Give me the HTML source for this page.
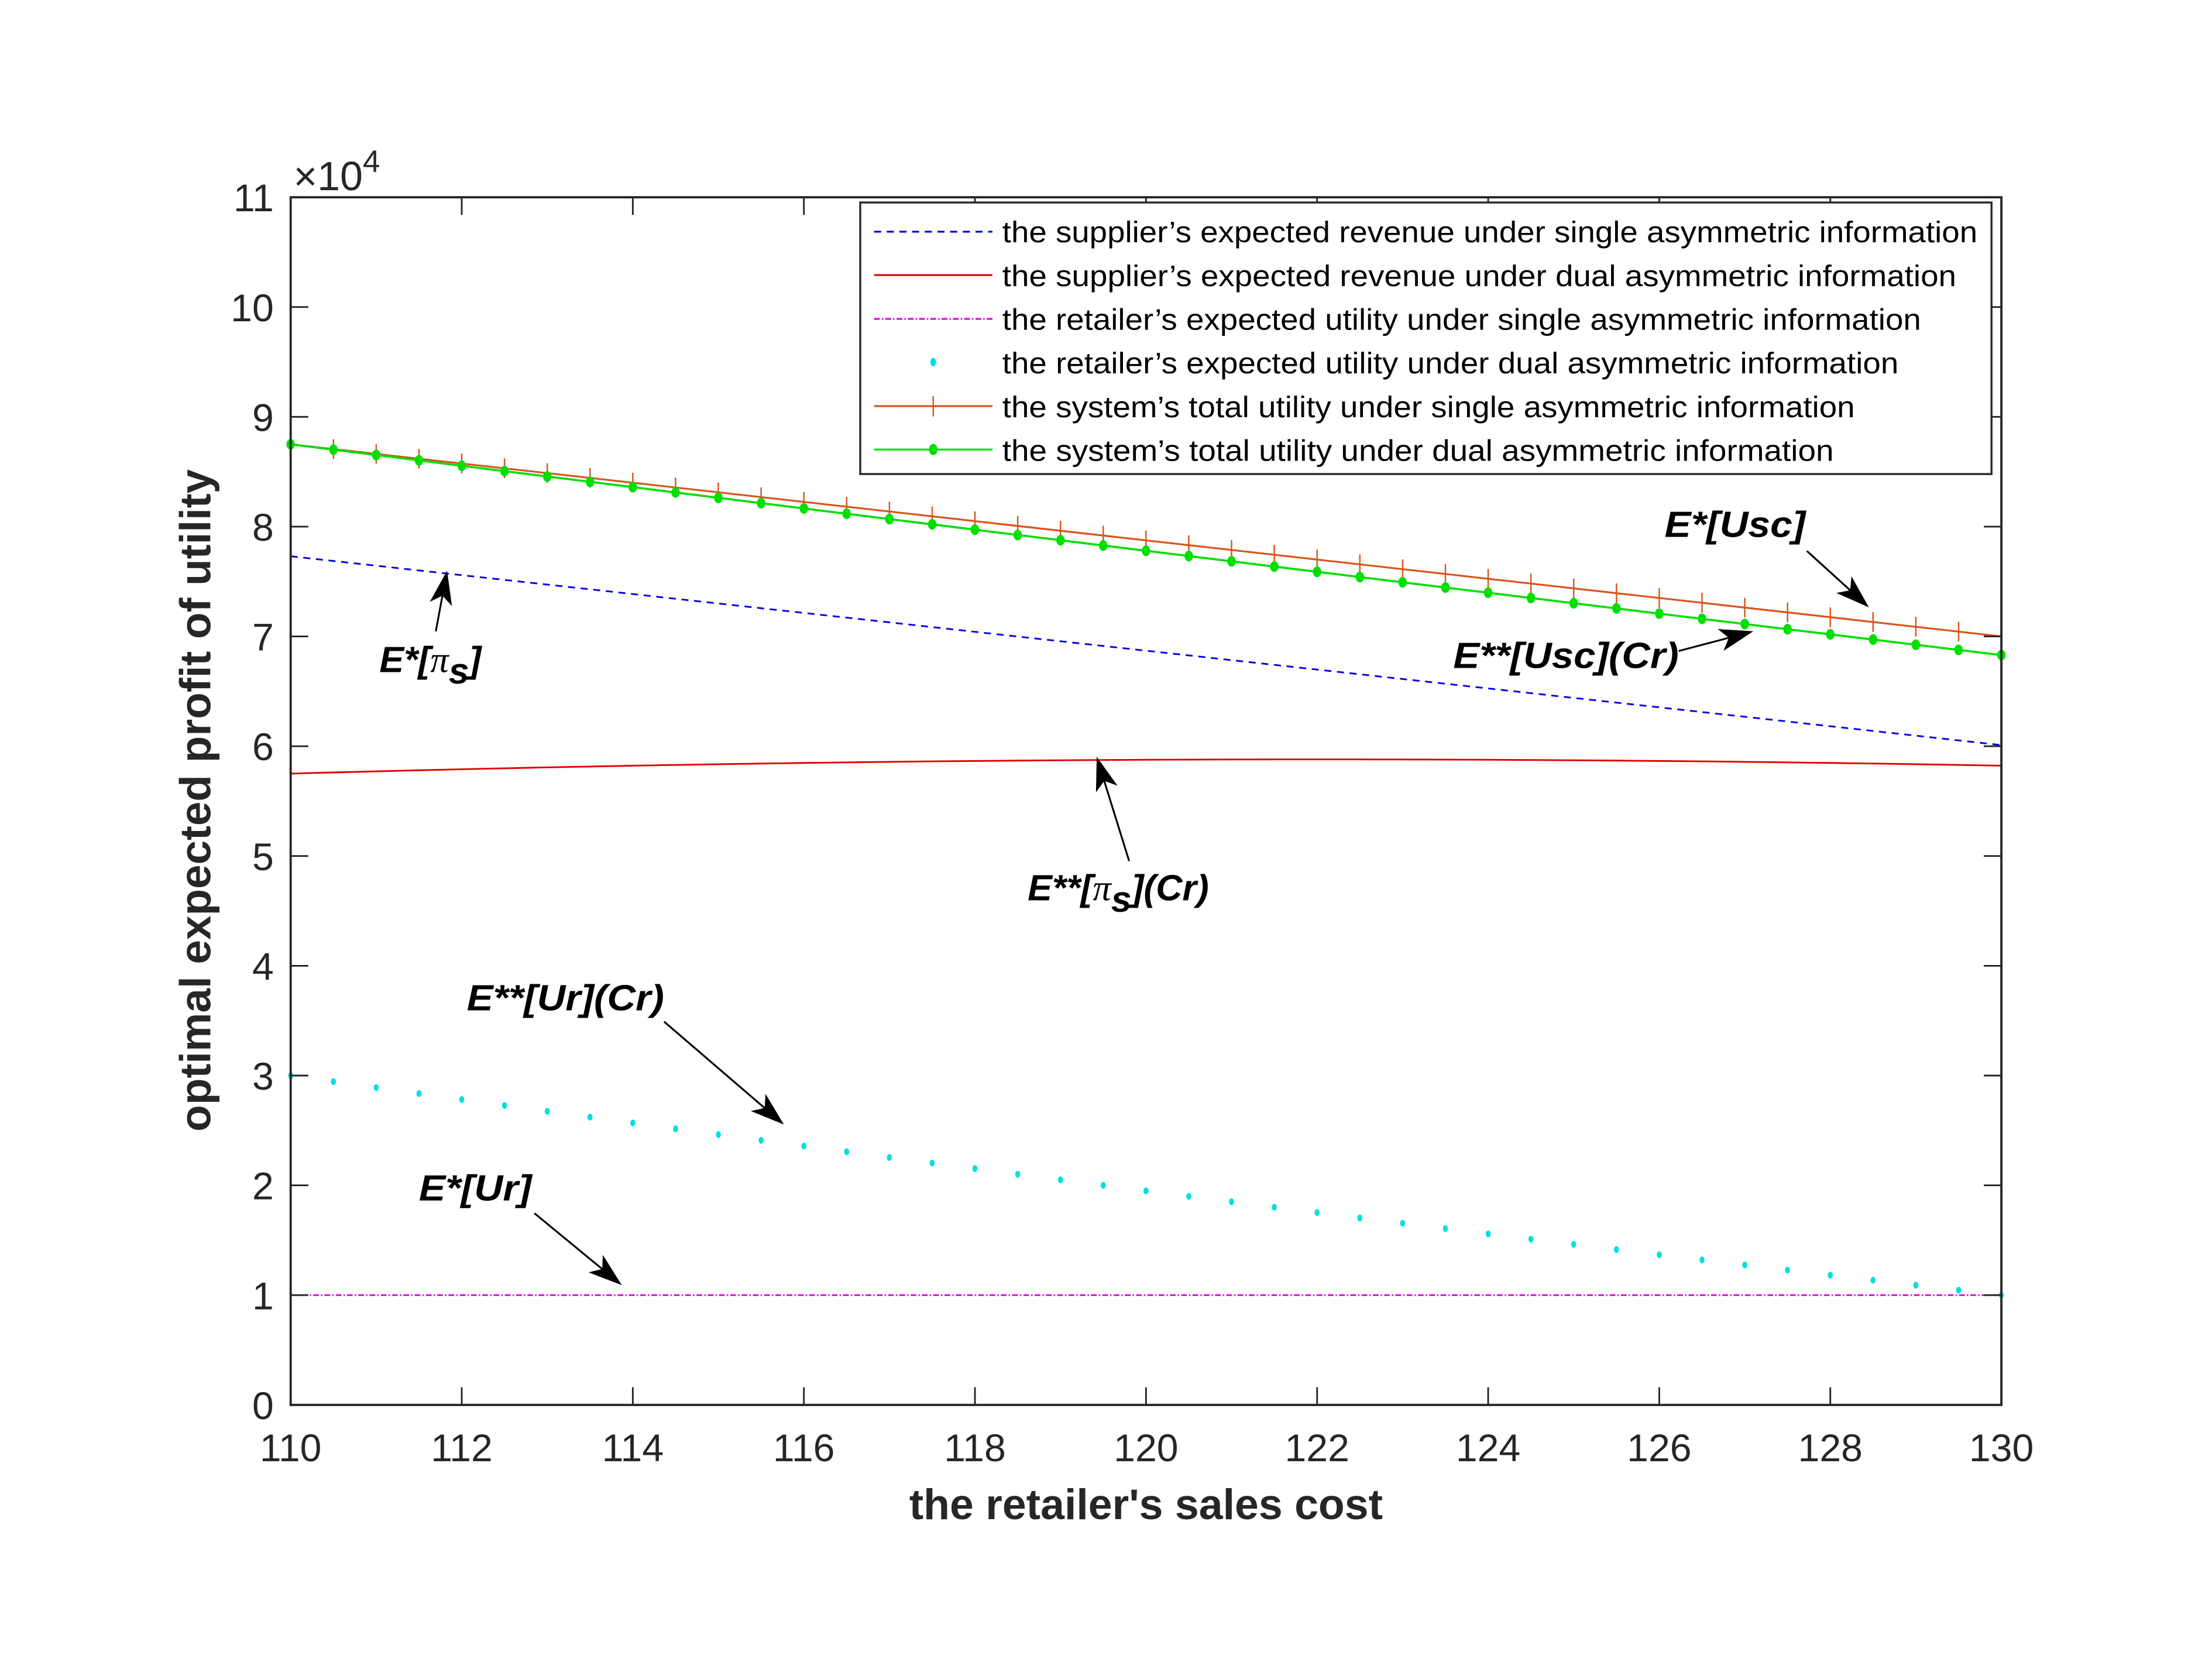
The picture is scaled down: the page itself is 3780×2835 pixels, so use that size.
<!DOCTYPE html>
<html><head><meta charset="utf-8"><style>
html,body{margin:0;padding:0;background:#fff;}
svg{display:block;font-family:"Liberation Sans",Arial,sans-serif;}
</style></head><body>
<svg id="s" width="3780" height="2835" viewBox="0 0 1567.2 1177.3" xmlns="http://www.w3.org/2000/svg">
<rect x="0" y="0" width="1567.2" height="1177.3" fill="#fff"/>
<g id="data"></g>
<rect x="205" y="140" width="1214" height="857" fill="none" stroke="#262626" stroke-width="1.6"/>
<g id="ticks" stroke="#262626" stroke-width="1.2"></g>
<g id="labels" font-size="27.5" fill="#262626"></g>
<text x="207" y="135" font-size="29" fill="#262626">×10<tspan dy="-13" font-size="22">4</tspan></text>
<text transform="translate(148,568) rotate(-90)" text-anchor="middle" font-size="31" font-weight="bold" fill="#262626">optimal expected profit of utility</text>
<text x="812" y="1078" text-anchor="middle" font-size="30.5" font-weight="bold" fill="#262626">the retailer's sales cost</text>
<rect x="609.2" y="143.7" width="802.8" height="192.7" fill="#fff" stroke="#262626" stroke-width="1.4"/>
<g font-size="21.3" fill="#000">
<line x1="619" y1="164.4" x2="703" y2="164.4" stroke="#0000e0" stroke-width="1.3" stroke-dasharray="5,4"/>
<text x="710" y="172" textLength="692" lengthAdjust="spacingAndGlyphs">the supplier’s expected revenue under single asymmetric information</text>
<line x1="619" y1="195.2" x2="703" y2="195.2" stroke="#e00000" stroke-width="1.3"/>
<text x="710" y="203" textLength="677" lengthAdjust="spacingAndGlyphs">the supplier’s expected revenue under dual asymmetric information</text>
<line x1="619" y1="226.3" x2="703" y2="226.3" stroke="#e000e0" stroke-width="1.3" stroke-dasharray="4,1.5,1,1.5"/>
<text x="710" y="234" textLength="652" lengthAdjust="spacingAndGlyphs">the retailer’s expected utility under single asymmetric information</text>
<ellipse cx="661" cy="257" rx="2" ry="3" fill="#00e0e0"/>
<text x="710" y="265" textLength="636" lengthAdjust="spacingAndGlyphs">the retailer’s expected utility under dual asymmetric information</text>
<line x1="619" y1="288.2" x2="703" y2="288.2" stroke="#d95319" stroke-width="1.3"/>
<line x1="661" y1="281" x2="661" y2="295.5" stroke="#d95319" stroke-width="1"/>
<text x="710" y="296" textLength="605" lengthAdjust="spacingAndGlyphs">the system’s total utility under single asymmetric information</text>
<line x1="619" y1="319" x2="703" y2="319" stroke="#00e000" stroke-width="1.3"/>
<ellipse cx="661" cy="319" rx="3" ry="4" fill="#00e000"/>
<text x="710" y="327" textLength="590" lengthAdjust="spacingAndGlyphs">the system’s total utility under dual asymmetric information</text>
</g>
<g font-size="26" font-weight="bold" font-style="italic" fill="#000">
<text x="1180" y="381" textLength="100" lengthAdjust="spacingAndGlyphs">E*[Usc]</text>
<text x="1030" y="474" textLength="160" lengthAdjust="spacingAndGlyphs">E**[Usc](Cr)</text>
<text x="268" y="477">E*[<tspan font-family="Liberation Serif" font-weight="normal">π</tspan><tspan dy="8">s</tspan><tspan dy="-8">]</tspan></text>
<text x="728" y="639">E**[<tspan font-family="Liberation Serif" font-weight="normal">π</tspan><tspan dy="8">s</tspan><tspan dy="-8">](Cr)</tspan></text>
<text x="330" y="717" textLength="140" lengthAdjust="spacingAndGlyphs">E**[Ur](Cr)</text>
<text x="296" y="852" textLength="80" lengthAdjust="spacingAndGlyphs">E*[Ur]</text>
</g>
<g id="arrows"></g>
</svg>
<script>
var NS="http://www.w3.org/2000/svg";
function X(v){return 205+(v-110)*60.7;}
function Y(v){return 997-v*77.91;}
function el(p,t,a){var e=document.createElementNS(NS,t);for(var k in a)e.setAttribute(k,a[k]);p.appendChild(e);return e;}
var D=document.getElementById('data'),T=document.getElementById('ticks'),L=document.getElementById('labels'),A=document.getElementById('arrows');
for(var i=0;i<=11;i++){var y=Y(i);el(T,'line',{x1:205,y1:y,x2:217.5,y2:y});el(T,'line',{x1:1419,y1:y,x2:1406.5,y2:y});
 var t=el(L,'text',{x:193,y:y+10,'text-anchor':'end'});t.textContent=i;}
for(var v=110;v<=130;v+=2){var x=X(v);el(T,'line',{x1:x,y1:997,x2:x,y2:984.5});el(T,'line',{x1:x,y1:140,x2:x,y2:152.5});
 var t=el(L,'text',{x:x,y:1037,'text-anchor':'middle'});t.textContent=v;}
function pts(f,n){var s=[];for(var i=0;i<=n;i++){var v=110+20*i/n;s.push(X(v).toFixed(2)+','+Y(f(v)).toFixed(2));}return s.join(' ');}
var blue=function(v){return 7.73-(v-110)*0.086;};
var red=function(v){return 5.88-0.0009*(v-122)*(v-122);};
var ora=function(v){return 8.75-(v-110)*0.0875;};
var grn=function(v){return 8.75-(v-110)*0.096 + 0.0001*(v-110)*(v-130);};
var cya=function(v){return 3-(v-110)*0.1+0.0005*(v-110)*(v-130);};
el(D,'polyline',{points:pts(function(){return 1;},2),fill:'none',stroke:'#e000e0','stroke-width':1.2,'stroke-dasharray':'4,1.5,1,1.5'});
el(D,'polyline',{points:pts(blue,2),fill:'none',stroke:'#0000e0','stroke-width':1.2,'stroke-dasharray':'5,4'});
el(D,'polyline',{points:pts(red,80),fill:'none',stroke:'#e00000','stroke-width':1.2});
el(D,'polyline',{points:pts(ora,2),fill:'none',stroke:'#d95319','stroke-width':1.3});
for(var i=0;i<=40;i++){var v=110+i*0.5;var x=X(v),y=Y(ora(v));el(D,'line',{x1:x,y1:y-7,x2:x,y2:y+7,stroke:'#d95319','stroke-width':1});}
el(D,'polyline',{points:pts(grn,40),fill:'none',stroke:'#00e000','stroke-width':1.5});
for(var i=0;i<=40;i++){var v=110+i*0.5;el(D,'ellipse',{cx:X(v),cy:Y(grn(v)),rx:3,ry:3.8,fill:'#00e000'});}
for(var i=0;i<=40;i++){var v=110+i*0.5;el(D,'ellipse',{cx:X(v),cy:Y(cya(v)),rx:1.8,ry:2.4,fill:'#00e0e0'});}
function arrow(x1,y1,x2,y2){var dx=x2-x1,dy=y2-y1,l=Math.sqrt(dx*dx+dy*dy);var ux=dx/l,uy=dy/l;var hl=24,hw=8;
 var bx=x2-ux*hl,by=y2-uy*hl;el(A,'line',{x1:x1,y1:y1,x2:bx+ux*6,y2:by+uy*6,stroke:'#000','stroke-width':1.3});
 el(A,'polygon',{points:x2+','+y2+' '+(bx-uy*hw)+','+(by+ux*hw)+' '+(bx+ux*6)+','+(by+uy*6)+' '+(bx+uy*hw)+','+(by-ux*hw),fill:'#000'});}
arrow(1281,391,1325,431);
arrow(1190,462,1243,448);
arrow(308,448,316,405);
arrow(800,611,777,537);
arrow(470,725,555,798);
arrow(378,861,440,912);
</script>
</body></html>
